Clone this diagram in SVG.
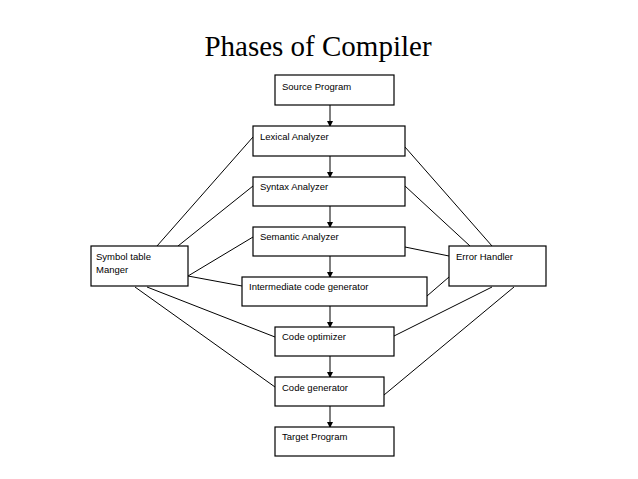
<svg xmlns="http://www.w3.org/2000/svg" width="638" height="479" viewBox="0 0 638 479">
<defs>
<style>
rect{fill:#fff;stroke:#000;stroke-width:1.2}
.t{font-family:"Liberation Sans",Arial,sans-serif;font-size:9.5px;fill:#000}
.c line{stroke:#000;stroke-width:1}
.a{marker-end:url(#ah)}
</style>
<marker id="ah" markerWidth="6" markerHeight="6" refX="5" refY="3" orient="auto" markerUnits="userSpaceOnUse"><path d="M0,0 L6,3 L0,6 z" fill="#000"/></marker>
</defs>
<rect x="0" y="0" width="638" height="479" style="stroke:none"/>
<text x="318" y="56" text-anchor="middle" style="font-family:'Liberation Serif',serif;font-size:29px">Phases of Compiler</text>
<g class="c">
<line class="a" x1="330" y1="105" x2="330" y2="126"/>
<line class="a" x1="330" y1="156" x2="330" y2="177"/>
<line class="a" x1="330" y1="206" x2="330" y2="227"/>
<line class="a" x1="330" y1="256" x2="330" y2="277"/>
<line class="a" x1="330" y1="306" x2="330" y2="327"/>
<line class="a" x1="330" y1="356" x2="330" y2="377"/>
<line class="a" x1="330" y1="406" x2="330" y2="427"/>
<line x1="157" y1="246" x2="253" y2="137"/>
<line x1="178" y1="246" x2="253" y2="186"/>
<line x1="188" y1="276" x2="253" y2="237"/>
<line x1="188" y1="276" x2="242" y2="286"/>
<line x1="147" y1="287" x2="275" y2="337"/>
<line x1="135" y1="287" x2="275" y2="387"/>
<line x1="405" y1="147" x2="492" y2="246"/>
<line x1="405" y1="186" x2="470" y2="246"/>
<line x1="405" y1="247" x2="449" y2="256"/>
<line x1="427" y1="296" x2="449" y2="277"/>
<line x1="492" y1="287" x2="394" y2="336"/>
<line x1="514" y1="287" x2="384" y2="395"/>
</g>
<g id="source"><rect x="275" y="75" width="119" height="30"/><text class="t" x="282" y="90">Source Program</text></g>
<g id="lexical"><rect x="253" y="126" width="152" height="30"/><text class="t" x="260" y="140">Lexical Analyzer</text></g>
<g id="syntax"><rect x="253" y="177" width="152" height="29"/><text class="t" x="260" y="190">Syntax Analyzer</text></g>
<g id="semantic"><rect x="253" y="227" width="152" height="29"/><text class="t" x="260" y="240">Semantic Analyzer</text></g>
<g id="intermediate"><rect x="242" y="277" width="185" height="29"/><text class="t" x="249" y="290">Intermediate code generator</text></g>
<g id="optimizer"><rect x="275" y="327" width="119" height="29"/><text class="t" x="282" y="340">Code optimizer</text></g>
<g id="generator"><rect x="275" y="377" width="109" height="29"/><text class="t" x="282" y="391">Code generator</text></g>
<g id="target"><rect x="275" y="427" width="119" height="29"/><text class="t" x="282" y="440">Target Program</text></g>
<g id="symbol"><rect x="91" y="246" width="97" height="40"/><text class="t" x="96" y="260">Symbol table</text><text class="t" x="96" y="273">Manger</text></g>
<g id="error"><rect x="449" y="246" width="97" height="40"/><text class="t" x="456" y="260">Error Handler</text></g>
</svg>
